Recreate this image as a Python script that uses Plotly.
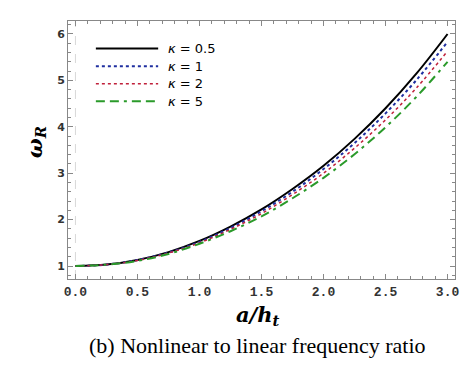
import plotly.graph_objects as go

a_vals = [0.0, 0.25, 0.5, 0.75, 1.0, 1.25, 1.5, 1.75, 2.0, 2.25, 2.5, 2.75, 3.0]
w_k05 = [1.00, 1.03, 1.13, 1.30, 1.54, 1.85, 2.22, 2.66, 3.16, 3.74, 4.40, 5.15, 6.00]
w_k1 = [1.00, 1.03, 1.13, 1.29, 1.52, 1.82, 2.18, 2.60, 3.09, 3.65, 4.29, 5.01, 5.83]
w_k2 = [1.00, 1.03, 1.12, 1.28, 1.50, 1.79, 2.13, 2.54, 3.00, 3.54, 4.15, 4.84, 5.63]
w_k5 = [1.00, 1.03, 1.11, 1.26, 1.48, 1.75, 2.07, 2.46, 2.90, 3.41, 3.99, 4.65, 5.40]
labels = ["<i>κ</i> = 0.5", "<i>κ</i> = 1", "<i>κ</i> = 2", "<i>κ</i> = 5"]

styles = [
    ("black", "solid", 2),
    ("#1f2fa0", "dot", 2),
    ("#c0203a", "dot", 1.5),
    ("#2a9a2a", "9px,5px,9px,5px,3px,5px", 2),
]
values = [w_k05, w_k1, w_k2, w_k5]

fig = go.Figure()
for lab, ys, (col, dash, w) in zip(labels, values, styles):
    fig.add_trace(go.Scatter(x=a_vals, y=ys, mode="lines", name=lab, showlegend=False,
                             line=dict(color=col, dash=dash, width=w, shape="spline")))

fig.add_shape(type="line", x0=0, x1=0, y0=0.72, y1=6.28, xref="x", yref="y",
              line=dict(color="#d8d8d8", width=1, dash="dash"), layer="below")

# legend drawn manually to match the reference's long line samples
leg_x0, leg_x1, leg_tx = 0.072, 0.233, 0.255
leg_y = [0.893, 0.825, 0.757, 0.689]
annotations = []
for lab, (col, dash, w), yy in zip(labels, styles, leg_y):
    fig.add_shape(type="line", xref="paper", yref="paper", x0=leg_x0, x1=leg_x1,
                  y0=yy, y1=yy, line=dict(color=col, dash=dash, width=w))
    annotations.append(dict(text=lab, x=leg_tx, y=yy, xref="paper", yref="paper",
                            xanchor="left", yanchor="middle", showarrow=False, borderpad=0,
                            font=dict(family="DejaVu Sans", size=13, color="black")))

axis_common = dict(showgrid=False, zeroline=False, showline=True, linecolor="#888888",
                   linewidth=1, mirror="ticks", ticks="inside", ticklen=5,
                   tickcolor="#888888")
fig.update_xaxes(range=[-0.06, 3.06], dtick=0.5, tick0=0, tickformat=".1f",
                 minor=dict(ticks="inside", dtick=0.1, ticklen=3, tickcolor="#888888"),
                 tickfont=dict(family="Liberation Mono", size=13, color="#333333", weight="bold"),
                 **axis_common)
fig.update_yaxes(range=[0.72, 6.28], dtick=1, tick0=0,
                 minor=dict(ticks="inside", dtick=0.2, ticklen=3, tickcolor="#888888"),
                 tickfont=dict(family="DejaVu Sans", size=11, color="#333333", weight="bold"),
                 **axis_common)

annotations += [
    dict(text="<b><i>ω<sub>R</sub></i></b>", x=-0.085, y=0.53,
         xref="paper", yref="paper", showarrow=False, textangle=-90,
         xanchor="center", yanchor="middle",
         font=dict(family="DejaVu Serif", size=21, color="black")),
    dict(text="<b><i>a/h<sub>t</sub></i></b>", x=0.49, y=-0.14,
         xref="paper", yref="paper", showarrow=False, yanchor="middle",
         font=dict(family="DejaVu Serif", size=21, color="black")),
    dict(text="(b) Nonlinear to linear frequency ratio", x=0.49, y=-0.258,
         xref="paper", yref="paper", showarrow=False, yanchor="middle",
         font=dict(family="Liberation Serif", size=22, color="black")),
]

fig.update_layout(
    width=474, height=370,
    margin=dict(l=60, r=27, t=13, b=99),
    plot_bgcolor="white", paper_bgcolor="white",
    showlegend=False,
    annotations=annotations,
)

fig.write_html("out.html")
